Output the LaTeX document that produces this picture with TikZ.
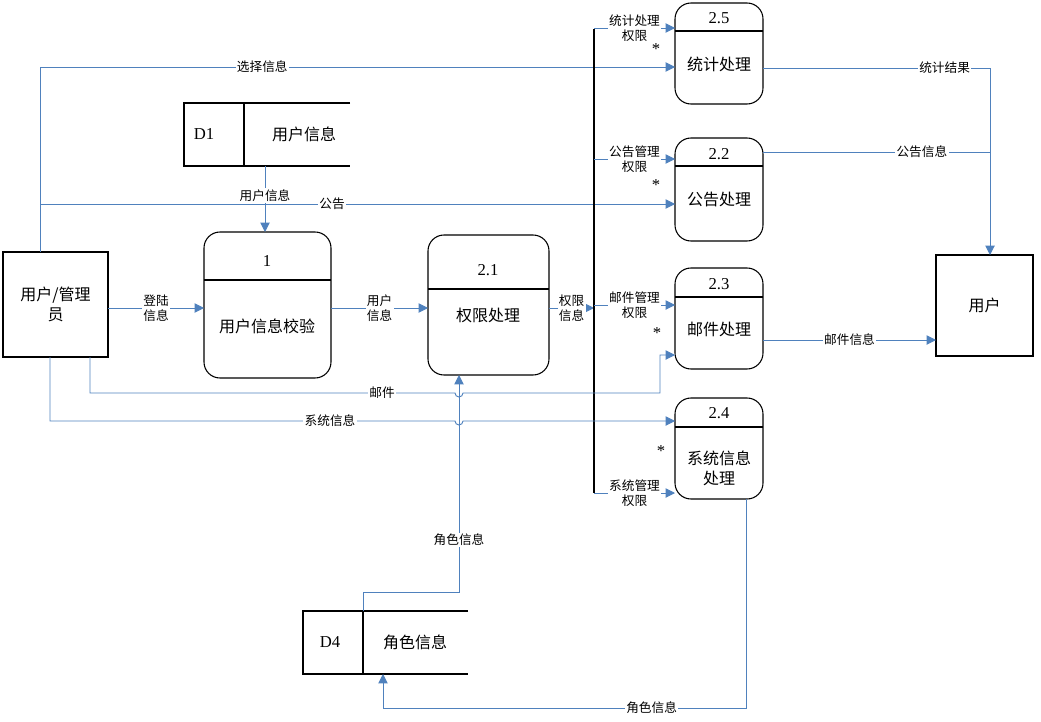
\documentclass[tikz,border=0pt]{standalone}
\usepackage{fontspec}
\setmainfont{Liberation Serif}
\newfontfamily\cjk{Noto Sans CJK SC}
\usetikzlibrary{arrows.meta}
\begin{document}
\begin{tikzpicture}[x=0.75pt,y=-0.75pt,font=\cjk\fontsize{10.5}{12}\selectfont,
 proc/.style={draw,rounded corners=12pt,thick},
 lab/.style={fill=white,inner sep=1pt,font=\cjk\fontsize{9.5}{11}\selectfont,align=center},
 big/.style={font=\cjk\fontsize{12}{15}\selectfont,align=center},
 num/.style={font=\rmfamily\fontsize{12.5}{15}\selectfont}]
\useasboundingbox (0,0) rectangle (1041,721);
\definecolor{ln}{HTML}{4F81BD}
\tikzset{flow/.style={draw=ln,line width=0.7pt,-{Triangle[length=7pt,width=7pt]}},fl/.style={draw=ln,line width=0.7pt}}
% entities
\node[draw,thick,minimum width=105*0.75pt,minimum height=105*0.75pt,big] (adm) at (55.5,304.5) {用户/管理\\员};
\node[draw,thick,minimum width=97*0.75pt,minimum height=101*0.75pt,big] (usr) at (984.5,305.5) {用户};
% stores
\draw[thick] (350,103) -- (184,103) -- (184,166) -- (350,166) (244,103) -- (244,166);
\node[num] (d1a) at (204,134) {D1}; \node[big] (d1) at (304,134) {用户信息};
\coordinate (d1b) at (265,166);
\draw[thick] (468,611) -- (303,611) -- (303,674) -- (468,674) (363,611) -- (363,674);
\node[num] (d4a) at (330,642) {D4}; \node[big] (d4) at (415,642) {角色信息};
% processes
\draw[proc] (204,232) rectangle (331,378); \draw[thick] (204,280) -- (331,280);
\node[num] (p1n) at (267,261) {1}; \node[big] (p1) at (267,326) {用户信息校验};
\draw[proc] (428,235) rectangle (549,375); \draw[thick] (428,289) -- (549,289);
\node[num] (p21n) at (488,270) {2.1}; \node[big] (p21) at (488,315) {权限处理};
\foreach \t/\m/\b in {3/31/104, 138/166/241, 268/297/369, 398/427/499}{
 \draw[proc] (675,\t) rectangle (763,\b); \draw[thick] (675,\m) -- (763,\m);
}
\node[num] at (719,18) {2.5}; \node[big] at (719,64) {统计处理};
\node[num] at (719,154) {2.2}; \node[big] at (719,199) {公告处理};
\node[num] at (719,284) {2.3}; \node[big] at (719,329) {邮件处理};
\node[num] at (719,413) {2.4}; \node[big] at (719,468) {系统信息\\处理};
\foreach \x/\y in {656/49,656/185,657/333,661/451} \node[num] at (\x,\y) {*};
% flows
\draw[fl] (40,252) -- (40,67); \draw[flow] (40,67) -- node[lab,pos=0.35]{选择信息} (675,67);
\draw[flow] (40,204) -- node[lab,pos=0.46]{公告} (675,204);
\draw[flow] (108,308) -- node[lab]{登陆\\信息} (204,308);
\draw[flow] (d1b) -- node[lab,pos=0.45]{用户信息} (265,232);
\draw[flow] (331,308) -- node[lab]{用户\\信息} (428,308);
\draw[flow] (549,308) -- node[lab,pos=0.5]{权限\\信息} (594,308);
\draw[thick] (594,29) -- (594,493);
\draw[flow] (594,28) -- node[lab,pos=0.5]{统计处理\\权限} (675,28);
\draw[flow] (594,159) -- node[lab,pos=0.5]{公告管理\\权限} (675,159);
\draw[flow] (594,305) -- node[lab,pos=0.5]{邮件管理\\权限} (675,305);
\draw[flow] (594,493) -- node[lab,pos=0.5]{系统管理\\权限} (675,493);
\draw[flow] (90,357) -- (90,393) -- (455,393) arc (180:0:4) -- (660,393) -- (660,355) -- (675,355);
\node[lab] at (382,393) {邮件};
\draw[flow] (50,357) -- (50,421) -- (455,421) arc (180:0:4) -- (675,421);
\node[lab] at (330,421) {系统信息};
\draw[flow] (363,611) -- (363,592) -- (459,592) -- node[lab,pos=0.24]{角色信息} (459,375);
\draw[flow] (746,499) -- (746,708) -- node[lab,pos=0.26]{角色信息} (383,708) -- (383,674);
\draw[flow] (763,68) -- node[lab,pos=0.8]{统计结果} (990,68) -- (990,255);
\draw[fl] (763,152) -- node[lab,pos=0.7]{公告信息} (990,152);
\draw[flow] (763,340) -- node[lab,pos=0.5]{邮件信息} (936,340);
\end{tikzpicture}
\end{document}
